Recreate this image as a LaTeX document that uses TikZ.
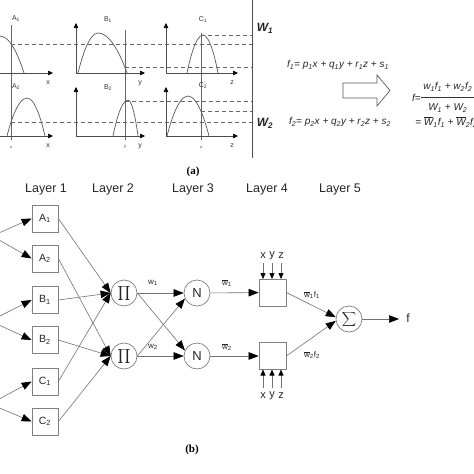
\documentclass[tikz,border=0pt]{standalone}
\usepackage{fontspec}
\setmainfont{Liberation Sans}
\newfontfamily\capfont{Liberation Serif}
\usetikzlibrary{arrows.meta}
\newcommand{\ssb}[1]{\textsubscript{#1}}
\newcommand{\ovl}[1]{$\overline{\mbox{#1}}$}
\begin{document}
\begin{tikzpicture}[x=1pt,y=-1pt,line width=0.6pt,
  ax/.style={draw=black!70,line width=0.6pt,-{Triangle[length=5pt,width=4.5pt,color=black]}},
  curve/.style={draw=black!65,line width=0.7pt},
  cursor/.style={draw=black!60,line width=0.5pt},
  guide/.style={draw=black!60,line width=0.6pt,dash pattern=on 4pt off 3pt},
  plab/.style={font=\fontsize{7}{8}\selectfont,text=black!80,inner sep=0pt},
  tiny/.style={font=\fontsize{4}{5}\selectfont,text=black!80,inner sep=0pt},
  eq/.style={font=\fontsize{10}{12}\selectfont\itshape,text=black!85,inner sep=0pt},
  wlab/.style={font=\fontsize{12}{14}\selectfont\bfseries\itshape,text=black!85,inner sep=0pt},
  captxt/.style={font=\fontsize{11}{13}\selectfont\capfont\bfseries,inner sep=0pt},
  layer/.style={font=\fontsize{12.5}{14}\selectfont,text=black!85,inner sep=0pt},
  mf/.style={draw=black!50,line width=0.7pt,minimum width=26pt,minimum height=27pt,inner sep=0pt,font=\fontsize{10.5}{12}\selectfont,text=black!85},
  opc/.style={circle,draw=black!50,line width=0.7pt,minimum size=26pt,inner sep=0pt,text=black!85},
  arr/.style={draw=black!55,line width=0.6pt,-{Triangle[length=10pt,width=7.5pt,color=black]}},
  arrs/.style={draw=black!55,line width=0.6pt,-{Triangle[length=6pt,width=5pt,color=black]}},
  small/.style={font=\fontsize{8}{9}\selectfont,text=black!85,inner sep=0pt},
  xyz/.style={font=\fontsize{11}{12}\selectfont,text=black!85,inner sep=0pt}]
\useasboundingbox (0,0) rectangle (474,474);
\fill[white] (0,0) rectangle (474,474);
% ---------------- (a) membership plots ----------------
% cursors
\draw[cursor] (11,25) -- (11,140);
\draw[cursor] (125,30) -- (125,140);
\draw[cursor] (201,33) -- (201,140);
% A1
\draw[ax] (-14,73) -- (53,73);
\draw[curve] (-24,73) parabola bend (0,36) (24,73);
\node[plab] (la1) at (16,19) {A\ssb1};
\node[plab] (lx1) at (48,83) {x};
% A2
\draw[ax] (-14,136) -- (53,136);
\draw[curve] (7,136) parabola bend (27,98) (45,136);
\node[plab] (la2) at (16,87) {A\ssb2};
\node[plab] (lx2) at (48,146) {x};
% B1
\draw[ax] (76,73) -- (76,23);
\draw[ax] (76,73) -- (145,73);
\draw[curve] (78,73) parabola bend (98,33) (127,73);
\node[plab] (lb1) at (108,20) {B\ssb1};
\node[plab] (ly1) at (140,83) {y};
% B2
\draw[ax] (76,136) -- (76,87);
\draw[ax] (76,136) -- (145,136);
\draw[curve] (113,136) parabola bend (128,100) (138,136);
\node[plab] (lb2) at (108,88) {B\ssb2};
\node[plab] (ly2) at (140,146) {y};
% C1
\draw[ax] (166,73) -- (166,23);
\draw[ax] (166,73) -- (238,73);
\draw[curve] (187,73) parabola bend (203,35) (218,73);
\node[plab] (lc1) at (203,20) {C\ssb1};
\node[plab] (lz1) at (232,83) {z};
% C2
\draw[ax] (166,136) -- (166,87);
\draw[ax] (166,136) -- (238,136);
\draw[curve] (167,136) parabola bend (188,96) (209,136);
\node[plab] (lc2) at (203,86) {C\ssb2};
\node[plab] (lz2) at (232,146) {z};
% tiny values
\node[tiny] (vx) at (11,147) {x};
\node[tiny] (vy) at (125,147) {y};
\node[tiny] (vz) at (201,147) {z};
% dashed guides
\draw[guide] (11,43.8) -- (252,43.8);
\draw[guide] (125,67) -- (252,67);
\draw[guide] (201,35.5) -- (252,35.5);
\draw[guide] (11,122) -- (252,122);
\draw[guide] (125,101.4) -- (252,101.4);
\draw[guide] (201,111.5) -- (252,111.5);
% separator
\draw[draw=black!70,line width=0.7pt] (252,0) -- (252,158);
\node[wlab] (w1) at (265,28) {W\ssb1};
\node[wlab] (w2) at (265,123) {W\ssb2};
% equations
\node[eq] (e1) at (338,65) {f\ssb1= p\ssb1x + q\ssb1y + r\ssb1z + s\ssb1};
\node[eq] (e2) at (340,122) {f\ssb2= p\ssb2x + q\ssb2y + r\ssb2z + s\ssb2};
\draw[draw=black!65,line width=0.7pt,fill=white] (343,83) -- (377,83) -- (377,75) -- (390,90.5) -- (377,106) -- (377,98) -- (343,98) -- cycle;
\node[eq,anchor=east] (fe) at (421,98) {f=};
\node[eq,anchor=west] (num) at (423,87) {w\ssb1f\ssb1 + w\ssb2f\ssb2};
\draw[draw=black!80,line width=0.6pt] (421,97) -- (480,97);
\node[eq,anchor=west] (den) at (428,108) {W\ssb1 + W\ssb2};
\node[eq,anchor=west] (l2) at (415,122) {= \ovl{W}\ssb1f\ssb1 + \ovl{W}\ssb2f\ssb2};
\node[captxt] (capa) at (193,172) {(a)};
% ---------------- (b) network ----------------
\node[layer] (L1) at (46,189) {Layer 1};
\node[layer] (L2) at (113,189) {Layer 2};
\node[layer] (L3) at (193,189) {Layer 3};
\node[layer] (L4) at (267,189) {Layer 4};
\node[layer] (L5) at (340,189) {Layer 5};
\node[mf] (A1) at (45,218.5) {A\ssb1};
\node[mf] (A2) at (45,258.5) {A\ssb2};
\node[mf] (B1) at (45,300) {B\ssb1};
\node[mf] (B2) at (45,340) {B\ssb2};
\node[mf] (C1) at (45,381.5) {C\ssb1};
\node[mf] (C2) at (45,421.5) {C\ssb2};
\coordinate (inA) at (-8,236);
\coordinate (inB) at (-10,321);
\coordinate (inC) at (-10,404);
\foreach \s/\t in {inA/A1,inA/A2,inB/B1,inB/B2,inC/C1,inC/C2}
  \draw[arr] (\s) -- (\t.west);
\node[opc] (P1) at (124,293) {$\displaystyle\prod$};
\node[opc] (P2) at (124,356) {$\displaystyle\prod$};
\node[opc,font=\fontsize{13}{14}\selectfont] (N1) at (197,293) {N};
\node[opc,font=\fontsize{13}{14}\selectfont] (N2) at (197,356) {N};
\foreach \t in {A1,B1,C1} \draw[arr] (\t.east) -- (P1.west);
\foreach \t in {A2,B2,C2} \draw[arr] (\t.east) -- (P2.west);
\draw[arr] (P1) -- (N1);
\draw[arr] (P2) -- (N2);
\draw[arr] (P1.east) -- (N2.155);
\draw[arr] (P2.east) -- (N1.205);
\node[small] (lw1) at (153,283) {w\ssb1};
\node[small] (lw2) at (153,347) {w\ssb2};
\node[mf,minimum width=27pt] (Q1) at (272.5,292.5) {};
\node[mf,minimum width=27pt] (Q2) at (272.5,356) {};
\draw[arr] (N1) -- (Q1);
\draw[arr] (N2) -- (Q2);
\node[small] (lbw1) at (227,283) {\ovl{w}\ssb1};
\node[small] (lbw2) at (227,347) {\ovl{w}\ssb2};
\node[opc] (S) at (349,319) {$\displaystyle\sum$};
\draw[arr] (Q1.east) -- (S.172);
\draw[arr] (Q2.east) -- (S.188);
\node[small] (lf1) at (312,295) {\ovl{w}\ssb1f\ssb1};
\node[small] (lf2) at (312,355) {\ovl{w}\ssb2f\ssb2};
\coordinate (fo) at (399,319);
\draw[arr] (S) -- (fo);
\node[font=\fontsize{12}{14}\selectfont,text=black!85,inner sep=0pt] (fout) at (408,318) {f};
% x y z inputs
\foreach \n/\xx/\tt in {tx/263/x,ty/272/y,tz/281/z}{
  \node[xyz] (\n) at (\xx,256) {\tt};
  \coordinate (\n e) at (\xx,279);
  \draw[arrs] (\xx,263) -- (\n e);
}
\foreach \n/\xx/\tt in {bx/263/x,by/272/y,bz/281/z}{
  \node[xyz] (\n) at (\xx,396) {\tt};
  \coordinate (\n e) at (\xx,369.5);
  \draw[arrs] (\xx,388) -- (\n e);
}
\node[captxt] (capb) at (192,450) {(b)};
\end{tikzpicture}
\end{document}
